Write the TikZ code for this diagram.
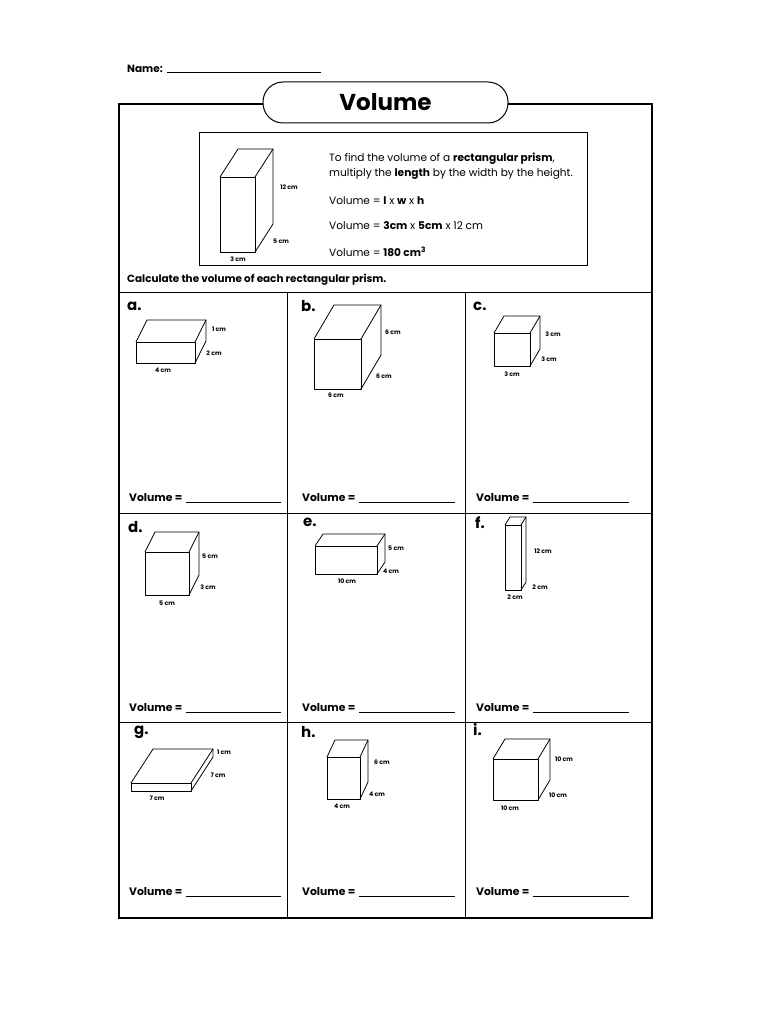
\documentclass[tikz,border=0pt]{standalone}
\usepackage{fontspec}
\setmainfont{Poppins}
\begin{document}
\begin{tikzpicture}[x=1pt,y=-1pt,
  lab/.style={font=\fontsize{6.2}{7}\selectfont\bfseries,inner sep=0pt},
  body/.style={font=\fontsize{10.6}{12}\selectfont,anchor=west,inner sep=0pt},
  letter/.style={font=\fontsize{15}{17}\selectfont\bfseries,anchor=west,inner sep=0pt},
  vol/.style={font=\fontsize{10.8}{12}\selectfont\bfseries,anchor=west,inner sep=0pt},
  edge/.style={line width=0.8pt,line join=round}]
\useasboundingbox (0,0) rectangle (768,1024);
\fill[white] (0,0) rectangle (768,1024);
\newcommand{\prismbox}[6]{%
  \draw[edge] (#1,#2) rectangle ++(#3,#4);
  \draw[edge] (#1,#2) -- ++(#5,-#6) -- ++(#3,0) -- ++(0,#4) -- ++(-#5,#6);
  \draw[edge] (#1+#3,#2) -- ++(#5,-#6);}
% name
\node[body,font=\fontsize{10.5}{12}\selectfont\bfseries] (name) at (127,69) {Name:};
\draw[line width=0.6pt] (167,72) -- (321,72);
% frame
\draw[line width=1.2pt] (263,104) -- (119,104) -- (119,918) -- (652,918) -- (652,104) -- (508,104);
\node[draw,line width=1pt,rounded corners=20pt,minimum width=245pt,minimum height=41pt,
  font=\fontsize{23}{25}\selectfont\bfseries] (title) at (385.5,102.5) {Volume};
% intro box
\draw[line width=1pt] (199,133) rectangle (587,265);
\prismbox{220}{177}{35}{75}{18}{28}
\node[lab] at (289,187) {12 cm};
\node[lab] at (281,241) {5 cm};
\node[lab] at (238,259) {3 cm};
\node[body] at (329,159) {To find the volume of a \textbf{rectangular prism},};
\node[body] at (329,174) {multiply the \textbf{length} by the width by the height.};
\node[body] at (329,201) {Volume = \textbf{l} x \textbf{w} x \textbf{h}};
\node[body] at (329,226) {Volume = \textbf{3cm} x \textbf{5cm} x 12 cm};
\node[body] at (329,252) {Volume = \textbf{180 cm\textsuperscript{3}}};
\node[body,font=\fontsize{10.4}{12}\selectfont\bfseries] at (127,280) {Calculate the volume of each rectangular prism.};
% grid
\draw[line width=0.8pt] (119,292) -- (652,292);
\draw[line width=0.8pt] (119,513) -- (652,513);
\draw[line width=0.8pt] (119,722) -- (652,722);
\draw[line width=0.8pt] (287,292) -- (287,918);
\draw[line width=0.8pt] (465,292) -- (465,918);
% letters
\node[letter] at (127,306) {a.};
\node[letter] at (301,306) {b.};
\node[letter] at (473,306) {c.};
\node[letter] at (128,527) {d.};
\node[letter] at (303,522) {e.};
\node[letter] at (475,523) {f.};
\node[letter] at (134,732) {g.};
\node[letter] at (301,732) {h.};
\node[letter] at (473,730) {i.};
% volume lines
\foreach \y in {498,708,892}{
  \node[vol] at (129,\y) {Volume =};
  \draw[line width=0.6pt] (186,\y+4) -- (281,\y+4);
  \node[vol] at (302,\y) {Volume =};
  \draw[line width=0.6pt] (359,\y+4) -- (455,\y+4);
  \node[vol] at (476,\y) {Volume =};
  \draw[line width=0.6pt] (533,\y+4) -- (629,\y+4);}
% a
\prismbox{136}{342}{59}{21}{11}{22}
\node[lab] at (219,329) {1 cm};
\node[lab] at (214,353) {2 cm};
\node[lab] at (163,370) {4 cm};
% b
\prismbox{314}{339}{47}{50}{20}{34}
\node[lab] at (393,332) {6 cm};
\node[lab] at (384,376) {6 cm};
\node[lab] at (336,395) {6 cm};
% c
\prismbox{494}{333}{36}{33}{10}{17}
\node[lab] at (553,334) {3 cm};
\node[lab] at (549,359) {3 cm};
\node[lab] at (512,374) {3 cm};
% d
\prismbox{145}{552}{44}{43}{10}{20}
\node[lab] at (210,556) {5 cm};
\node[lab] at (208,587) {3 cm};
\node[lab] at (167,603) {5 cm};
% e
\prismbox{315}{546}{62}{28}{8}{12}
\node[lab] at (396,548) {5 cm};
\node[lab] at (391,571) {4 cm};
\node[lab] at (347,581) {10 cm};
% f
\prismbox{505}{525}{16}{65}{5}{8}
\node[lab] at (543,551) {12 cm};
\node[lab] at (540,587) {2 cm};
\node[lab] at (515,597) {2 cm};
% g
\prismbox{131}{783}{60}{8}{22}{34}
\node[lab] at (224,752) {1 cm};
\node[lab] at (218,775) {7 cm};
\node[lab] at (157,798) {7 cm};
% h
\prismbox{327}{757}{33}{42}{8}{17}
\node[lab] at (382,762) {6 cm};
\node[lab] at (377,794) {4 cm};
\node[lab] at (342,806) {4 cm};
% i
\prismbox{493}{759}{45}{41}{12}{20}
\node[lab] at (564,759) {10 cm};
\node[lab] at (558,795) {10 cm};
\node[lab] at (510,808) {10 cm};
\end{tikzpicture}
\end{document}
